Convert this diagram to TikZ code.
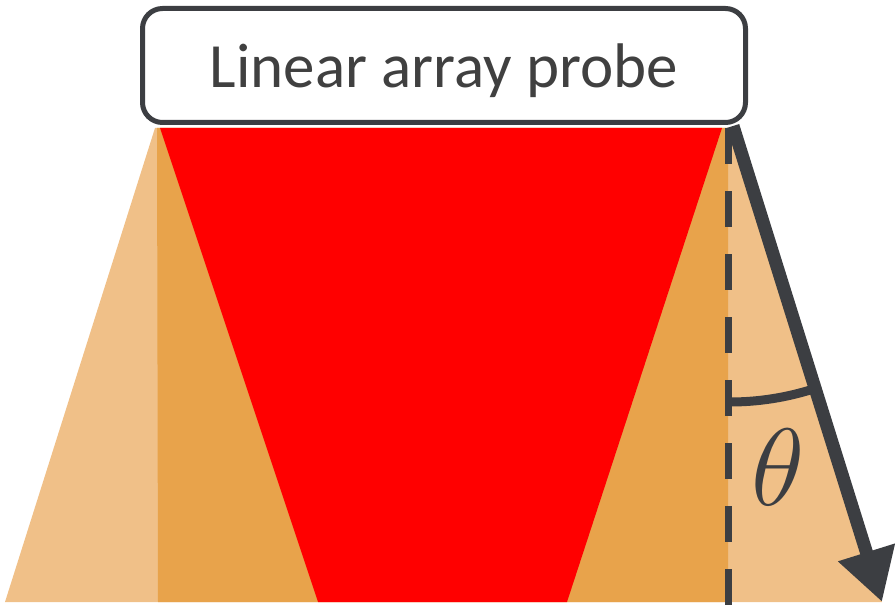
\RequirePackage{fix-cm}
\documentclass[tikz,border=0pt]{standalone}
\usepackage{fontspec}
\setmainfont{Carlito}
\usetikzlibrary{arrows.meta}
\definecolor{darkline}{HTML}{3C3E42}
\definecolor{textgrey}{HTML}{404040}
\definecolor{lightorange}{HTML}{F0C088}
\definecolor{darkorange}{HTML}{E8A34B}
\definecolor{beamred}{HTML}{FF0000}
\begin{document}
\begin{tikzpicture}[x=0.5pt,y=0.5pt,
    probebox/.style={draw=darkline, line width=2.5pt, rounded corners=10pt, fill=white, minimum width=301.5pt, minimum height=57pt, inner sep=0pt, text=textgrey, font=\fontsize{31.5pt}{36pt}\selectfont, text height=22pt, text depth=0pt},
    steerarrow/.style={darkline, line width=6.5pt, -{Triangle[length=26pt,width=28pt]}},
    normalline/.style={darkline, line width=3.5pt, dash pattern=on 18pt off 13.5pt},
    anglearc/.style={darkline, line width=4.5pt}
    ]
  \useasboundingbox (0,0) rectangle (895,612);
  % beam regions
  \fill[lightorange] (155,484) -- (5,10) -- (882,10) -- (730,484) -- cycle;
  \fill[darkorange] (157,484) -- (158,10) -- (728,10) -- (728,484) -- cycle;
  \fill[beamred] (160,484) -- (318,10) -- (567,10) -- (722,484) -- cycle;
  % probe
  \node [probebox] (probe) at (444,546.5) {Linear array probe};
  \coordinate (apex) at (733,486);
  \coordinate (tip) at (882,10);
  \coordinate (normalend) at (728,2);
  \draw [normalline] (728,484) -- (normalend);
  \draw [steerarrow] (apex) -- (tip);
  \draw [anglearc] (730,484) ++(-90:274) arc [start angle=-90, end angle=-72.3, radius=274];
  \node [text=darkline, font=\fontsize{55pt}{60pt}\selectfont] (theta) at (778,145) {$\theta$};
\end{tikzpicture}
\end{document}
